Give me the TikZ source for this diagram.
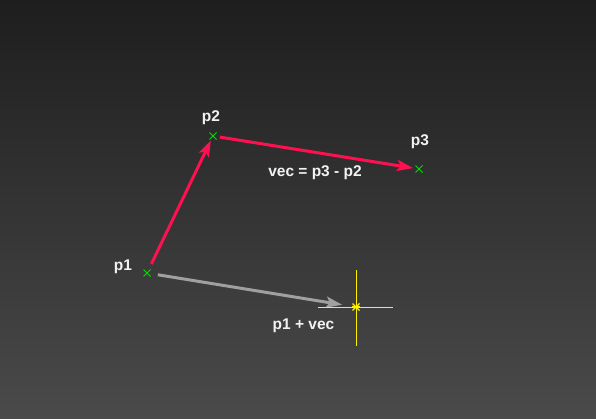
\documentclass[tikz,border=0pt]{standalone}
\usepackage{fontspec}
\setmainfont{Liberation Sans}
\usetikzlibrary{arrows.meta,calc}
\definecolor{bgtop}{HTML}{1E1E1E}
\definecolor{bgbot}{HTML}{4A4A4A}
\definecolor{vecred}{HTML}{FF1050}
\definecolor{vecgray}{HTML}{A0A0A0}
\definecolor{ptgreen}{HTML}{00E000}
\definecolor{labelwhite}{HTML}{F2F2F2}
\tikzset{
  lbl/.style={anchor=base,text=labelwhite,font=\fontsize{15.5}{18}\selectfont\bfseries,inner sep=0pt},
  redvec/.style={draw=vecred,line width=3pt,-{Stealth[length=16pt,width=11pt,inset=3.5pt]}},
  grayvec/.style={draw=vecgray,line width=3pt,-{Stealth[length=16pt,width=11pt,inset=3.5pt]}},
  ptmark/.style={draw=ptgreen,line width=0.9pt},
  crossh/.style={draw=yellow,line width=1pt}
}
\begin{document}
\begin{tikzpicture}[x=1pt,y=-1pt]
\shade[top color=bgtop,bottom color=bgbot] (0,0) rectangle (596,419);
\useasboundingbox (0,0) rectangle (596,419);
% points
\coordinate (p1) at (147,273);
\coordinate (p2) at (213,136);
\coordinate (p3) at (419,169);
\coordinate (t) at (356,307);
% crosshair ends
\coordinate (chl) at (318,307);
\coordinate (chr) at (393,307);
\coordinate (cht) at (356,270);
\coordinate (chb) at (356,346);
% markers
\foreach \p in {p1,p2,p3}{
  \draw[ptmark] ($(\p)+(-3.5,-3.5)$) -- ($(\p)+(3.5,3.5)$);
  \draw[ptmark] ($(\p)+(-3.5,3.5)$) -- ($(\p)+(3.5,-3.5)$);
}
% vectors
\draw[grayvec,shorten <=11pt,shorten >=14pt] (p1) -- (t);
\draw[redvec,shorten <=10pt,shorten >=5pt] (p1) -- (p2);
\draw[redvec,shorten <=7pt,shorten >=6pt] (p2) -- (p3);
% crosshair
\draw[crossh] (chl) -- (chr);
\draw[crossh] (cht) -- (chb);
\draw[crossh,line width=1.4pt] ($(t)+(-3.5,-3.5)$) -- ($(t)+(3.5,3.5)$);
\draw[crossh,line width=1.4pt] ($(t)+(-3.5,3.5)$) -- ($(t)+(3.5,-3.5)$);
\draw[crossh,line width=1.4pt] ($(t)+(-4,0)$) -- ($(t)+(4,0)$);
% labels
\node[lbl] (lp1) at (123,271) {p1};
\node[lbl] (lp2) at (211,122) {p2};
\node[lbl] (lp3) at (420,146) {p3};
\node[lbl] (lvec) at (315,177) {vec = p3 - p2};
\node[lbl] (lsum) at (303.5,329) {p1 + vec};
\end{tikzpicture}
\end{document}
